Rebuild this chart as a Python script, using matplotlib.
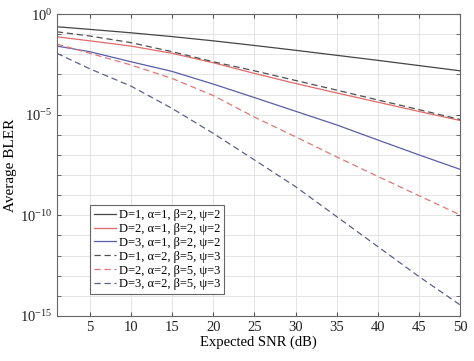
import numpy as np
import matplotlib
matplotlib.use("Agg")
import matplotlib.pyplot as plt
from matplotlib.ticker import FixedLocator, NullFormatter

# values (log10 of BLER)
snr = [1, 5, 10, 15, 20, 25, 30, 35, 40, 45, 50]

d1_a1 = [-0.63, -0.76, -0.93, -1.12, -1.33, -1.56, -1.80, -2.05, -2.30, -2.56, -2.82]
d2_a1 = [-1.13, -1.33, -1.59, -1.95, -2.42, -2.95, -3.45, -3.92, -4.38, -4.84, -5.29]
d3_a1 = [-1.59, -1.87, -2.37, -2.85, -3.48, -4.15, -4.83, -5.51, -6.26, -7.00, -7.72]
d1_a2 = [-0.88, -1.09, -1.42, -1.87, -2.37, -2.82, -3.30, -3.78, -4.27, -4.75, -5.24]
d2_a2 = [-1.49, -1.95, -2.53, -3.20, -4.05, -5.12, -6.10, -7.10, -8.07, -9.03, -9.98]
d3_a2 = [-1.95, -2.72, -3.58, -4.69, -5.93, -7.25, -8.58, -10.07, -11.56, -13.05, -14.46]

labels = [
    "D=1, α=1, β=2, ψ=2",
    "D=2, α=1, β=2, ψ=2",
    "D=3, α=1, β=2, ψ=2",
    "D=1, α=2, β=5, ψ=3",
    "D=2, α=2, β=5, ψ=3",
    "D=3, α=2, β=5, ψ=3",
]

plt.rcParams["font.family"] = "Liberation Serif"
plt.rcParams["mathtext.fontset"] = "custom"
plt.rcParams["mathtext.rm"] = "Liberation Serif"
plt.rcParams["mathtext.it"] = "Liberation Serif"

c_gray = "#454545"
c_red = "#e06a6a"
c_blue = "#5a5da8"
c_gray2 = "#505050"
c_red2 = "#e07878"
c_blue2 = "#5c6088"

fig = plt.figure(figsize=(4.74, 3.61), dpi=100)
ax = fig.add_axes([0.12, 0.125, 0.851, 0.836])

series = [d1_a1, d2_a1, d3_a1, d1_a2, d2_a2, d3_a2]
colors = [c_gray, c_red, c_blue, c_gray2, c_red2, c_blue2]
styles = ["-", "-", "-", "--", "--", "--"]
for ys, col, ls, lab in zip(series, colors, styles, labels):
    ax.semilogy(snr, 10 ** np.array(ys), color=col, ls=ls, lw=0.9, label=lab,
                dashes=(5, 3) if ls == "--" else (None, None))

ax.set_xlim(1, 50)
ax.set_ylim(1e-15, 1)
ax.set_xticks(range(5, 51, 5))
ax.yaxis.set_major_locator(FixedLocator([1e-15, 1e-10, 1e-5, 1]))
ax.yaxis.set_minor_locator(FixedLocator([10.0 ** k for k in range(-15, 1)]))
ax.yaxis.set_minor_formatter(NullFormatter())
ax.set_yticklabels([r"$10^{-15}$", r"$10^{-10}$", r"$10^{-5}$", r"$10^{0}$"])

ax.grid(True, which="major", color="#e4e4e4", lw=0.7)
ax.grid(True, which="minor", axis="y", color="#e4e4e4", lw=0.7)
ax.set_axisbelow(True)
ax.tick_params(which="both", direction="in", top=True, right=True,
               labelsize=10.5, colors="#555555", labelcolor="#222222", length=3)
for s in ax.spines.values():
    s.set_color("#666666")
    s.set_linewidth(0.8)

ax.set_xlabel("Expected SNR (dB)", fontsize=10.5, labelpad=1)
ax.set_ylabel("Average BLER", fontsize=11, labelpad=2)

leg = ax.legend(loc="lower left", bbox_to_anchor=(0.082, 0.072), fontsize=9,
                handlelength=1.8, handletextpad=0.2, labelspacing=0.15,
                borderpad=0.3, borderaxespad=0, fancybox=False, framealpha=1)
leg.get_frame().set_edgecolor("#666666")
leg.get_frame().set_linewidth(0.8)

fig.savefig("out.png", dpi=100)
